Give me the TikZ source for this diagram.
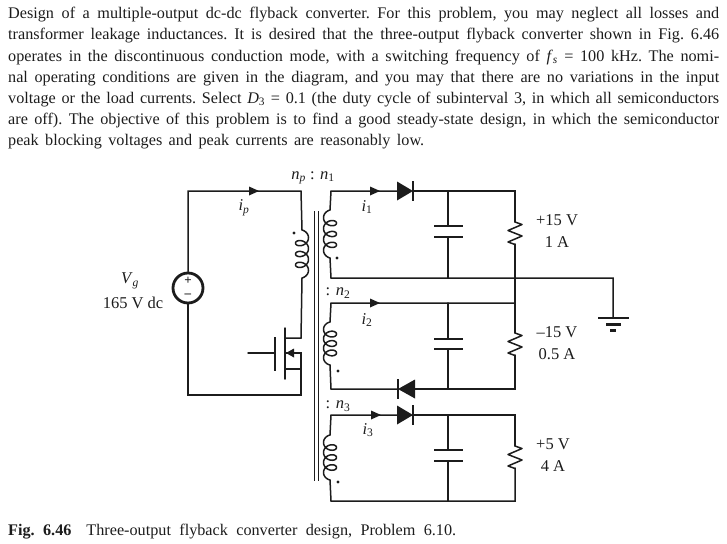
\documentclass[tikz,border=0pt]{standalone}
\usepackage{fontspec}
\setmainfont{Liberation Serif}
\newcommand{\subi}[1]{\textsubscript{\textit{#1}}}
\newcommand{\subr}[1]{\textsubscript{#1}}
\newcommand{\coilR}[3]{\draw[wire,smooth] plot[domain=-90:1170,samples=140] ({#1+6.5*cos(\x)},{#2+5+(\x+90)/1260*(#3-#2-10)+5*sin(\x)});}
\newcommand{\coilL}[3]{\draw[wire,smooth] plot[domain=-90:1170,samples=140] ({#1-6.5*cos(\x)},{#2+5+(\x+90)/1260*(#3-#2-10)+5*sin(\x)});}
\newcommand{\zig}[2]{\draw[wire,line join=round] (#1,#2) -- ++(7,2.5) -- ++(-14,6) -- ++(14,5.5) -- ++(-14,6) -- ++(7,2.5);}
\begin{document}
\begin{tikzpicture}[x=1pt,y=-1pt,
  wire/.style={line width=1.5pt,color=ink,line cap=round},
  thin wire/.style={line width=1pt,color=ink},
  plate/.style={line width=2.2pt,color=ink},
  textline/.style={anchor=base west,inner sep=0pt,font=\fontsize{16.2}{18}\selectfont\frenchspacing,color=ink},
  lab/.style={inner sep=0pt,font=\fontsize{16.5}{18}\selectfont,color=ink},
  dotmark/.style={circle,fill=ink,inner sep=0pt,minimum size=3.4pt},
  source/.style={circle,draw=ink,line width=2.8pt,fill=white,minimum size=30pt,inner sep=0pt},
  head/.style={fill=ink,draw=none}]
\definecolor{ink}{HTML}{1C1C1C}
\useasboundingbox (0,0) rectangle (727,543);
% problem statement
\node[textline] (t1) at (8,19) {\makebox[711pt][s]{Design of a multiple-output dc-dc flyback converter. For this problem, you may neglect all losses and}};
\node[textline] (t2) at (8,40) {\makebox[711pt][s]{transformer leakage inductances. It is desired that the three-output flyback converter shown in Fig. 6.46}};
\node[textline] (t3) at (8,61) {\makebox[711pt][s]{operates in the discontinuous conduction mode, with a switching frequency of \textit{f}\subi{s} = 100 kHz. The nomi-}};
\node[textline] (t4) at (8,82) {\makebox[711pt][s]{nal operating conditions are given in the diagram, and you may that there are no variations in the input}};
\node[textline] (t5) at (8,103) {\makebox[711pt][s]{voltage or the load currents. Select \textit{D}\subr{3} = 0.1 (the duty cycle of subinterval 3, in which all semiconductors}};
\node[textline] (t6) at (8,124) {\makebox[711pt][s]{are off). The objective of this problem is to find a good steady-state design, in which the semiconductor}};
\node[textline] (t7) at (8,145) {\makebox[416pt][s]{peak blocking voltages and peak currents are reasonably low.}};
\node[textline] (cap) at (8,535) {\makebox[448pt][s]{\textbf{Fig. 6.46}\hspace{15pt}Three-output flyback converter design, Problem 6.10.}};
% coordinates
\node[source] (vg) at (188,288) {};
\node[lab] (vplus) at (188,281) {\fontsize{13}{14}\selectfont\textbf{+}};
\node[lab] (vminus) at (188,295.5) {\fontsize{13}{14}\selectfont\textbf{–}};
\coordinate (ptl) at (188,191);
\coordinate (ptr) at (301,191);
\coordinate (pc1) at (302,230);
\coordinate (pc2) at (302,278);
\coordinate (dr) at (301,338);
\coordinate (chd) at (285,338);
\coordinate (sb) at (301,353);
\coordinate (chm) at (285,353);
\coordinate (sr) at (301,369);
\coordinate (chs) at (285,369);
\coordinate (pbr) at (301,395);
\coordinate (pbl) at (188,395);
\coordinate (gl) at (248,353);
\coordinate (gb) at (275,353);
% primary
\draw[wire] (vg.north) -- (ptl) -- (ptr) -- (pc1);
\coilR{302}{230}{278}
\draw[wire] (pc2) -- (dr) -- (chd);
\draw[wire] (vg.south) -- (pbl) -- (pbr) -- (sr) -- (chs);
\draw[wire] (sr) -- (sb) -- (chm);
\draw[wire] (gl) -- (gb);
\draw[plate] (275,337) -- (275,371);
\draw[wire] (285,328) -- (285,379);
\fill[head] (286,353) -- (294,348.5) -- (294,357.5) -- cycle;
\fill[head] (259,191) -- (249,186.5) -- (249,195.5) -- cycle;
\node[dotmark] (dp) at (294,233) {};
% core
\draw[thin wire] (314,211) -- (314,481);
\draw[thin wire] (318,211) -- (318,481);
% winding 1
\coordinate (a1) at (331,191);
\coordinate (c1t) at (330,210);
\coordinate (c1b) at (330,258);
\coordinate (b1) at (331,278);
\coordinate (dg1) at (397,191);
\coordinate (k1) at (413,191);
\coordinate (cj1) at (448,191);
\coordinate (rt1) at (515,191);
\coordinate (cb1) at (448,278);
\coordinate (rb1) at (515,278);
\coordinate (gnd) at (613,278);
\coordinate (gndb) at (613,318);
\draw[wire] (c1t) -- (a1) -- (dg1);
\coilL{330}{210}{258}
\draw[wire] (c1b) -- (b1) -- (gnd) -- (gndb);
\draw[wire] (k1) -- (rt1) -- (515,222);
\zig{515}{222}
\draw[wire] (515,244) -- (rb1);
\draw[wire] (cj1) -- (448,226);
\draw[wire] (448,237) -- (cb1);
\draw[plate] (434,226) -- (463,226);
\draw[plate] (434,237) -- (463,237);
\fill[head] (380,191) -- (370,186.5) -- (370,195.5) -- cycle;
\fill[head] (413,191) -- (397,181.5) -- (397,200.5) -- cycle;
\draw[plate] (413,181) -- (413,201);
\node[dotmark] (d1) at (337,258) {};
% winding 2
\coordinate (a2) at (331,303);
\coordinate (c2t) at (330,322);
\coordinate (c2b) at (330,365);
\coordinate (b2) at (331,389);
\coordinate (k2) at (398,389);
\coordinate (dg2) at (415,389);
\coordinate (rt2) at (515,303);
\coordinate (rb2) at (515,389);
\draw[wire] (c2t) -- (a2) -- (rt2);
\coilL{330}{322}{365}
\draw[wire] (c2b) -- (b2) -- (k2);
\draw[wire] (rb1) -- (rt2) -- (515,333);
\zig{515}{333}
\draw[wire] (515,355) -- (rb2) -- (dg2);
\draw[wire] (448,303) -- (448,339);
\draw[wire] (448,349) -- (448,389);
\draw[plate] (434,339) -- (463,339);
\draw[plate] (434,349) -- (463,349);
\fill[head] (380,303) -- (370,298.5) -- (370,307.5) -- cycle;
\fill[head] (398,389) -- (415,379.5) -- (415,398.5) -- cycle;
\draw[plate] (398,379) -- (398,399);
\node[dotmark] (d2) at (338,371) {};
% winding 3
\coordinate (a3) at (331,415);
\coordinate (c3t) at (330,435);
\coordinate (c3b) at (330,480);
\coordinate (b3) at (331,501);
\coordinate (dg3) at (397,415);
\coordinate (k3) at (413,415);
\coordinate (rt3) at (515,415);
\coordinate (rb3) at (515,501);
\draw[wire] (c3t) -- (a3) -- (dg3);
\coilL{330}{435}{480}
\draw[wire] (c3b) -- (b3) -- (rb3) -- (515,468);
\draw[wire] (k3) -- (rt3) -- (515,446);
\zig{515}{446}
\draw[wire] (448,415) -- (448,450);
\draw[wire] (448,461) -- (448,501);
\draw[plate] (434,450) -- (463,450);
\draw[plate] (434,461) -- (463,461);
\fill[head] (381,415) -- (371,410.5) -- (371,419.5) -- cycle;
\fill[head] (413,415) -- (397,405.5) -- (397,424.5) -- cycle;
\draw[plate] (413,405) -- (413,425);
\node[dotmark] (d3) at (338,482) {};
% ground
\draw[line width=2.4pt,color=ink] (598,318) -- (629,318);
\draw[line width=2.2pt,color=ink] (606,324.5) -- (621,324.5);
\draw[line width=2.2pt,color=ink] (610,330.5) -- (616,330.5);
% labels
\node[lab] (np) at (313,178) {\textit{n}\subi{p} : \textit{n}\subr{1}};
\node[lab] (ip) at (244,208) {\textit{i}\subi{p}};
\node[lab] (vgl) at (130,281) {\textit{V}\subi{g}};
\node[lab] (vgv) at (133,303) {165 V dc};
\node[lab] (i1) at (367,207) {\textit{i}\subr{1}};
\node[lab] (i2) at (367,320) {\textit{i}\subr{2}};
\node[lab] (i3) at (368,430) {\textit{i}\subr{3}};
\node[lab] (n2) at (338,293) {: \textit{n}\subr{2}};
\node[lab] (n3) at (338,406) {: \textit{n}\subr{3}};
\node[lab] (v1) at (557,220.5) {+15 V};
\node[lab] (a1l) at (557,242.5) {1 A};
\node[lab] (v2) at (557,332.5) {–15 V};
\node[lab] (a2l) at (557,354.5) {0.5 A};
\node[lab] (v3) at (553,444.5) {+5 V};
\node[lab] (a3l) at (553,466.5) {4 A};
\end{tikzpicture}
\end{document}
